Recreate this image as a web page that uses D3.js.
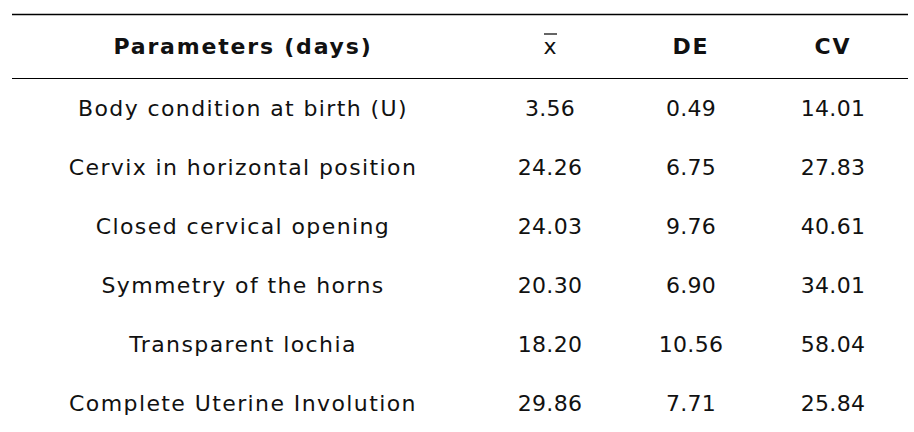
<!DOCTYPE html>
<html><head><meta charset="utf-8">
<script src="https://cdn.jsdelivr.net/npm/d3@7"></script>
<style>body{margin:0;background:#fff}</style></head>
<body><svg id="c" width="914" height="432"></svg>
<script>
const headers = ["Parameters (days)", "x", "DE", "CV"];
const params = ["Body condition at birth (U)","Cervix in horizontal position","Closed cervical opening","Symmetry of the horns","Transparent lochia","Complete Uterine Involution"];
const means = ["3.56","24.26","24.03","20.30","18.20","29.86"];
const de = ["0.49","6.75","9.76","6.90","10.56","7.71"];
const cv = ["14.01","27.83","40.61","34.01","58.04","25.84"];

const svg = d3.select("#c");
const font = "Verdana, DejaVu Sans, sans-serif";
const x = d3.scaleOrdinal().domain([0,1,2,3]).range([243,550,691,833]);
const y = d3.scalePoint().domain(d3.range(params.length)).range([108,403]);

svg.append("line").attr("x1",12).attr("x2",908).attr("y1",14.5).attr("y2",14.5).attr("stroke","#000").attr("stroke-width",1.5);
svg.append("line").attr("x1",12).attr("x2",908).attr("y1",78.5).attr("y2",78.5).attr("stroke","#000").attr("stroke-width",1.2);

svg.selectAll("text.h").data(headers).join("text").attr("class","h")
  .attr("x",(d,i)=>x(i)).attr("y",46).attr("dy","0.35em")
  .attr("text-anchor","middle").attr("font-family",font).attr("font-size",22)
  .attr("letter-spacing",(d,i)=>i===1?0:1.8)
  .attr("font-weight",(d,i)=>i===1?"normal":"bold").attr("fill","#111").text(d=>d);
svg.append("line").attr("x1",x(1)-6).attr("x2",x(1)+7).attr("y1",34).attr("y2",34).attr("stroke","#111").attr("stroke-width",1.3);

const rows = params.map((p,i)=>[p,means[i],de[i],cv[i]]);
rows.forEach((r,ri)=>{
  svg.selectAll(null).data(r).join("text")
    .attr("x",(d,i)=>x(i)).attr("y",y(ri)).attr("dy","0.35em")
    .attr("text-anchor","middle").attr("font-family",font).attr("font-size",22)
    .attr("letter-spacing",(d,i)=>i===0?1.4:0.3)
    .attr("fill","#111").text(d=>d);
});
</script></body></html>
